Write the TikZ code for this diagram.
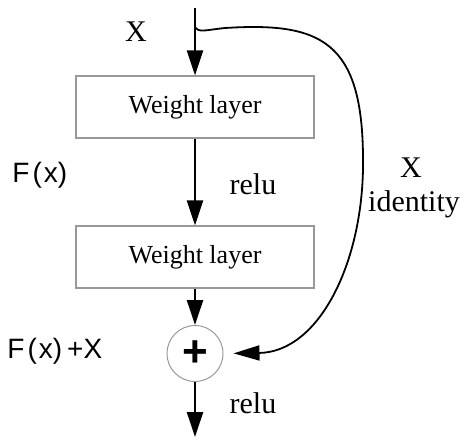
\documentclass[tikz,border=0pt]{standalone}
\usepackage{fontspec}
\setmainfont{Liberation Serif}
\newfontfamily\labelsans{Liberation Sans}
\usetikzlibrary{arrows.meta, positioning, shapes}

\tikzset{
  layer/.style={draw=gray!80, line width=0.6pt, minimum width=119pt, minimum height=31pt,
    inner sep=0pt, font=\fontsize{13}{15}\selectfont},
  adder/.style={circle, draw=gray!80, line width=0.5pt, minimum size=28pt, inner sep=0pt,
    font=\labelsans\bfseries\fontsize{22}{22}\selectfont},
  flow/.style={line width=1.2pt, -{Triangle[length=12.5pt,width=8pt]}},
  skip/.style={line width=0.9pt, -{Triangle[length=13pt,width=7.5pt]}, shorten >=5pt},
  lbl/.style={font=\fontsize{15}{17}\selectfont},
  sumlbl/.style={font=\labelsans\fontsize{14}{16}\selectfont, inner sep=0pt}
}

\begin{document}
\begin{tikzpicture}[x=0.5pt,y=-0.5pt]
\useasboundingbox (0,0) rectangle (474,447);

\coordinate (in) at (195,8);
\coordinate (split) at (195,27);
\coordinate (out) at (195,437);
\node[layer](l1) at (195,107) {Weight layer};
\node[layer](l2) at (195,257) {Weight layer};
\node[adder](add) at (195,353.5) {+};

\node[lbl](xin) at (136,32) {X};
\node[sumlbl,anchor=west](fx) at (12,175) {F\hspace{1.5pt}(\hspace{1pt}x)};
\node[lbl](relu1) at (253,184) {relu};
\node[lbl](xid) at (411,168) {X};
\node[lbl](ident) at (414,204) {identity};
\node[sumlbl,anchor=west](fxx) at (7,351) {F\hspace{1.5pt}(\hspace{1pt}x)\hspace{2.5pt}+X};
\node[lbl](relu2) at (253,403) {relu};

\draw[flow] (in) -- (l1);
\draw[flow] (l1) -- (l2);
\draw[flow] (l2) -- (add);
\draw[flow] (add) -- (out);
\draw[skip] (split) .. controls (199,33) and (205,30) .. (225,28)
  .. controls (320,22) and (363,40) .. (363,160)
  .. controls (364,260) and (320,352) .. (add.east);

\end{tikzpicture}
\end{document}
